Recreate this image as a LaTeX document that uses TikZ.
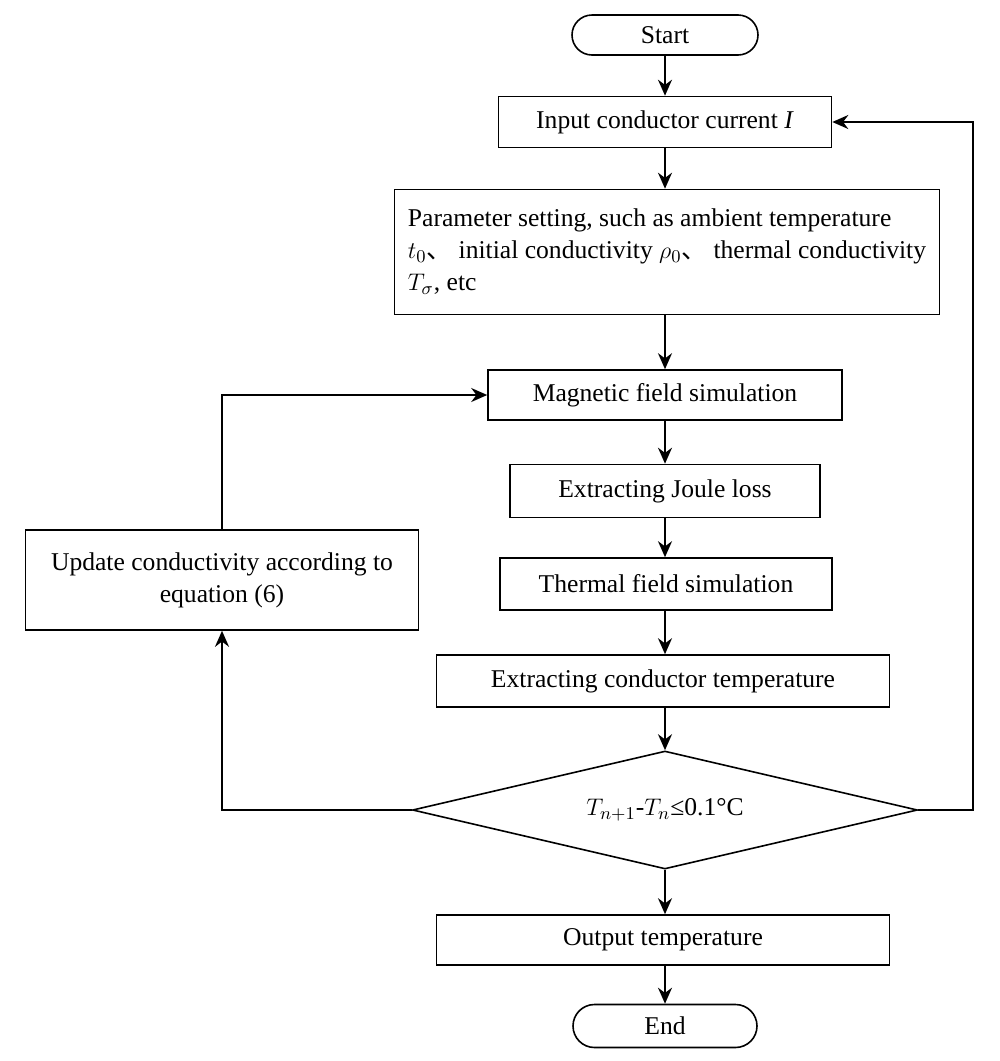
\documentclass[tikz,border=0pt]{standalone}
\usepackage{fontspec}
\setmainfont{Liberation Serif}
\newfontfamily\cjk{Noto Sans CJK SC}
\usetikzlibrary{shapes.geometric,shapes.misc,arrows.meta}
\begin{document}
\begin{tikzpicture}[x=0.5pt,y=-0.5pt,
  box/.style={draw,line width=0.8pt,align=center,inner sep=2pt,font=\fontsize{12.8}{16}\selectfont},
  arr/.style={-{Stealth[length=8pt,width=7pt]},line width=1pt}]
\useasboundingbox (0,0) rectangle (1000,1061);
\node[box,rounded rectangle,minimum width=97pt,minimum height=20pt] (start) at (665,35) {Start};
\node[box,minimum width=166.5pt,minimum height=25.5pt] (in) at (665,122) {Input conductor current \textit{I}};
\node[box,minimum width=272.5pt,minimum height=62.5pt,align=left] (par) at (667,252) {Parameter setting, such as ambient temperature\\ $t_0${\cjk 、} initial conductivity $\rho_0${\cjk 、} thermal conductivity\\ $T_\sigma$, etc};
\node[box,minimum width=177pt,minimum height=25pt] (mag) at (665,395) {Magnetic field simulation};
\node[box,minimum width=155pt,minimum height=26.5pt] (joule) at (665,491) {Extracting Joule loss};
\node[box,minimum width=166pt,minimum height=26pt] (therm) at (666,584) {Thermal field simulation};
\node[box,minimum width=226.5pt,minimum height=26pt] (ext) at (663,681) {Extracting conductor temperature};
\node[box,diamond,aspect=4.3,minimum width=252.5pt,minimum height=59pt,inner sep=0pt] (dec) at (665,810) {$T_{n+1}$-$T_n$≤0.1°C};
\node[box,minimum width=226.5pt,minimum height=25pt] (out) at (663,940) {Output temperature};
\node[box,rounded rectangle,minimum width=96pt,minimum height=21.5pt] (end) at (665,1026) {End};
\node[box,minimum width=196.5pt,minimum height=50pt] (upd) at (222,580) {Update conductivity according to\\ equation (6)};
\coordinate (rc) at (973,810);
\coordinate (cx) at (665,0);
\draw[arr] (cx |- start.south) -- (cx |- in.north);
\draw[arr] (cx |- in.south) -- (cx |- par.north);
\draw[arr] (cx |- par.south) -- (cx |- mag.north);
\draw[arr] (cx |- mag.south) -- (cx |- joule.north);
\draw[arr] (cx |- joule.south) -- (cx |- therm.north);
\draw[arr] (cx |- therm.south) -- (cx |- ext.north);
\draw[arr] (cx |- ext.south) -- (dec.north);
\draw[arr] (dec.south) -- (cx |- out.north);
\draw[arr] (cx |- out.south) -- (end.north);
\draw[arr] (dec.west) -| (upd.south);
\draw[arr] (upd.north) |- (mag.west);
\draw[arr] (dec.east) -- (rc) |- (in.east);
\end{tikzpicture}
\end{document}
